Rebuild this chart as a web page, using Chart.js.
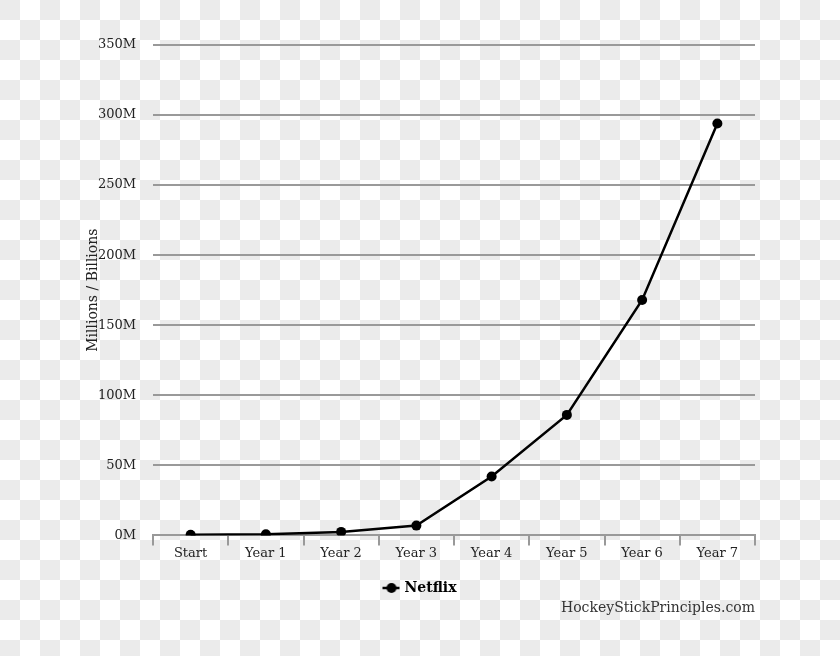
<!DOCTYPE html>
<html>
<head>
<meta charset="utf-8">
<script src="https://cdn.jsdelivr.net/npm/chart.js@4"></script>
<style>
  html, body { margin: 0; padding: 0; }
  body {
    width: 840px; height: 656px; overflow: hidden;
    background-color: #ffffff;
    background-image:
      linear-gradient(45deg, #ebebeb 25%, transparent 25%, transparent 75%, #ebebeb 75%),
      linear-gradient(45deg, #ebebeb 25%, transparent 25%, transparent 75%, #ebebeb 75%);
    background-size: 40px 40px;
    background-position: 20px 0, 0 20px;
  }
  #wrap { position: relative; width: 840px; height: 656px; }
  #mark {
    position: absolute; right: 85px; top: 599px;
    font-family: "DejaVu Serif", serif; font-size: 14px; color: #333;
  }
</style>
</head>
<body>
<div id="wrap">
  <canvas id="line-chart"></canvas>
  <div id="mark">HockeyStickPrinciples.com</div>
</div>
<script>
// data (millions)
var labels = ["Start", "Year 1", "Year 2", "Year 3", "Year 4", "Year 5", "Year 6", "Year 7"];
var netflix = [0.5, 0.8, 2.5, 7, 42, 86, 168, 294];
var yTicks = [0, 50, 100, 150, 200, 250, 300, 350];

var font = "'DejaVu Serif', serif";
var gridGray = "#999999";
var textColor = "#222";

// legend marker: short line with a dot
var marker = document.createElement("canvas");
marker.width = 20; marker.height = 12;
var m = marker.getContext("2d");
m.strokeStyle = "#000"; m.lineWidth = 2.5;
m.beginPath(); m.moveTo(2, 6); m.lineTo(19, 6); m.stroke();
m.fillStyle = "#000";
m.beginPath(); m.arc(11, 6, 5, 0, Math.PI * 2); m.fill();

var ctx = document.getElementById("line-chart");
var chartGraph = new Chart(ctx, {
  type: 'line',
  data: {
    labels: labels,
    datasets: [{
      label: "Netflix",
      data: netflix,
      borderColor: "#000",
      backgroundColor: "#000",
      borderWidth: 2.5,
      pointRadius: 5,
      pointHoverRadius: 5,
      pointBackgroundColor: "#000",
      pointBorderWidth: 0,
      tension: 0
    }]
  },
  options: {
    responsive: true,
    maintainAspectRatio: false,
    devicePixelRatio: 1,
    animation: false,
    layout: { padding: { left: 85, right: 85, top: 45, bottom: 51 } },
    plugins: {
      tooltip: { enabled: false },
      legend: {
        position: 'bottom',
        labels: {
          font: { family: font, size: 14, weight: 'bold' },
          color: "#111",
          usePointStyle: true,
          padding: 20,
          generateLabels: function (chart) {
            return [{
              text: "Netflix",
              pointStyle: marker,
              fillStyle: "#000",
              strokeStyle: "#000",
              lineWidth: 0,
              datasetIndex: 0
            }];
          }
        }
      }
    },
    scales: {
      x: {
        offset: true,
        grid: {
          offset: true,
          drawOnChartArea: false,
          tickLength: 10,
          color: gridGray,
          lineWidth: 2
        },
        border: { color: gridGray, width: 2 },
        ticks: {
          font: { family: font, size: 13 },
          color: textColor,
          padding: 0,
          maxRotation: 0
        }
      },
      y: {
        min: 0,
        max: 350,
        afterBuildTicks: function (axis) {
          axis.ticks = yTicks.map(function (v) { return { value: v }; });
        },
        afterFit: function (axis) { axis.width = 68; },
        grid: {
          drawTicks: false,
          color: gridGray,
          lineWidth: 2
        },
        border: { display: false },
        ticks: {
          font: { family: font, size: 13 },
          color: textColor,
          padding: 17,
          callback: function (v) { return v + "M"; }
        },
        title: {
          display: true,
          text: "Millions / Billions",
          font: { family: font, size: 14 },
          color: textColor,
          padding: 0
        }
      }
    }
  }
});
</script>
</body>
</html>
